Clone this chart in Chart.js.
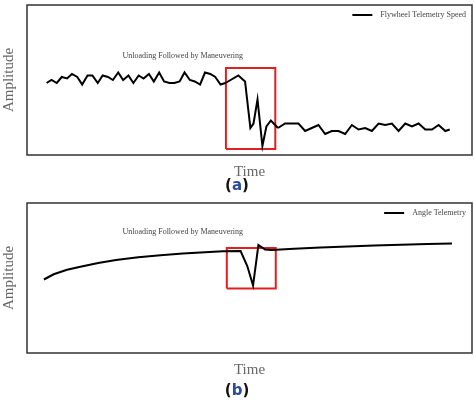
<!DOCTYPE html>
<html><head><meta charset="utf-8">
<script src="https://cdn.jsdelivr.net/npm/chart.js@4"></script>
<style>
body{margin:0;background:#fff;width:474px;height:402px;position:relative;overflow:hidden}
.box{position:absolute;left:0;width:474px}
.cap{position:absolute;width:474px;text-align:center;font:bold 15px "DejaVu Sans",sans-serif;color:#111}
</style></head><body>
<div class="box" style="top:0;height:181px"><canvas id="chartA"></canvas></div>
<div class="cap" style="top:176px">(<span style="color:#2a4a9a">a</span>)</div>
<div class="box" style="top:198px;height:181px"><canvas id="chartB"></canvas></div>
<div class="cap" style="top:381px">(<span style="color:#2a4a9a">b</span>)</div>
<script>
// panel (a): flywheel speed
const timeA = [4.4,5.5,6.7,7.8,9,10.1,11.3,12.4,13.6,14.7,15.9,17,18.2,19.3,20.5,21.6,22.8,23.9,25.1,26.2,27.4,28.5,29.7,30.8,32,33.1,34.3,35.4,36.6,37.7,38.9,40,41.2,42.3,43.5,44.6];
const speedA = [48,50,48,52,51,54,52,47,53,53,48,53,52,50,55,50,53,48,53,51,54,49,55,49,48,48,49,55,50,49,47,55,54,52,47,48];
// the drop inside the box
const dropT = [44.6,47.5,49,50.2,50.9,51.8,52.9,53.8,54.8,56.4];
const dropV = [48,53,49,18,21,37,6,19,23,18];
const lowT = [56.4,58,59.5,61,62.5,64,65.5,67,68.5,70,71.5,73,74.5,76,77.5,79,80.5,82,83.5,85,86.5,88,89.5,91,92.5,94,95];
const lowV = [18,21,21,21,16,18,20,14,16,16,14,20,17,18,16,21,20,21,16,21,19,21,17,17,20,16,17];
const boxA = {x:[44.7,55.8], y:[4,58]};

// panel (b): angle telemetry
const timeB = [3.8,6,9,12,16,20,25,30,35,40,44,48,49.5,50.8,52,53.5,55,60,66,72,78,84,90,95.5];
const angleB = [49,52.5,55.5,57.5,60,62,63.8,65.2,66.3,67.2,67.8,68,58,45,72,69,68.7,69.5,70.3,71,71.6,72.2,72.7,73];
const boxB = {x:[44.9,55.9], y:[43,70]};

function rect(b){return [{x:b.x[0],y:b.y[0]},{x:b.x[1],y:b.y[0]},{x:b.x[1],y:b.y[1]},{x:b.x[0],y:b.y[1]},{x:b.x[0],y:b.y[0]}];}
function pts(t,v){return t.map((x,i)=>({x:x,y:v[i]}));}

const decor = {
  id:'decor',
  afterDraw(c, args, o){
    const a=c.chartArea, ctx=c.ctx;
    ctx.save();
    ctx.strokeStyle='#333'; ctx.lineWidth=1.5;
    ctx.strokeRect(a.left,a.top,a.right-a.left,a.bottom-a.top);
    ctx.font='8px "Liberation Serif",serif'; ctx.fillStyle='#444';
    ctx.textAlign='right'; ctx.textBaseline='middle';
    ctx.fillText(o.legend, a.right-6, a.top+10);
    const w=ctx.measureText(o.legend).width;
    ctx.strokeStyle='#000'; ctx.lineWidth=2;
    ctx.beginPath(); ctx.moveTo(a.right-14-w-20,a.top+10); ctx.lineTo(a.right-14-w,a.top+10); ctx.stroke();
    ctx.textAlign='center';
    ctx.fillText('Unloading Followed by Maneuvering', c.scales.x.getPixelForValue(o.tx), c.scales.y.getPixelForValue(o.ty));
    ctx.restore();
  }
};

function makeChart(id, sets, legend, tx, ty){
  return new Chart(document.getElementById(id), {
    type:'line',
    data:{datasets:sets.map(s=>({data:s.d,borderColor:s.c,borderWidth:2,pointRadius:0,fill:false}))},
    options:{
      responsive:true, maintainAspectRatio:false, animation:false,
      layout:{padding:{top:5,right:2,left:0,bottom:0}},
      plugins:{legend:{display:false},tooltip:{enabled:false},decor:{legend:legend,tx:tx,ty:ty}},
      scales:{
        x:{type:'linear',min:0,max:100,grid:{display:false},ticks:{display:false},border:{display:false},
           title:{display:true,text:'Time',color:'#666',font:{family:'"Liberation Serif",serif',size:15},padding:{top:0,bottom:0}}},
        y:{min:0,max:100,grid:{display:false},ticks:{display:false},border:{display:false},
           title:{display:true,text:'Amplitude',color:'#666',font:{family:'"Liberation Serif",serif',size:15},padding:{top:0,bottom:1}}}
      }
    },
    plugins:[decor]
  });
}

makeChart('chartA', [
  {d:pts(timeA,speedA),c:'#000'},
  {d:pts(dropT,dropV),c:'#000'},
  {d:pts(lowT,lowV),c:'#000'},
  {d:rect(boxA),c:'#e02020'}
], 'Flywheel Telemetry Speed', 35, 66);

makeChart('chartB', [
  {d:pts(timeB,angleB),c:'#000'},
  {d:rect(boxB),c:'#e02020'}
], 'Angle Telemetry', 35, 81);
</script>
</body></html>
